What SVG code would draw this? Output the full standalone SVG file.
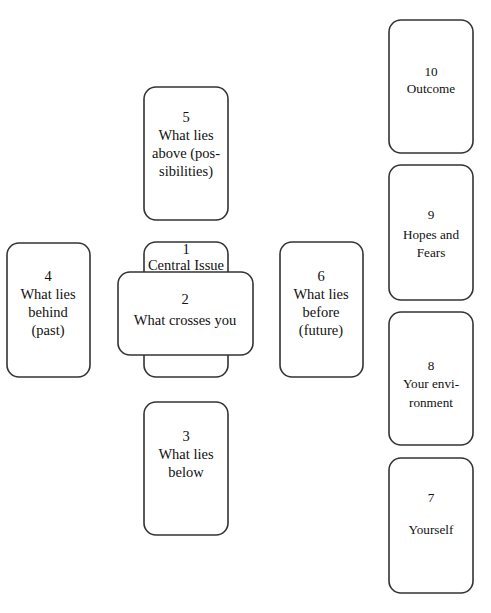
<svg xmlns="http://www.w3.org/2000/svg" width="491" height="613" viewBox="0 0 491 613">
<style>
.card{fill:#fff;stroke:#333;stroke-width:1.6}
text{font-family:"Liberation Serif","Times New Roman",serif;font-size:14.5px;fill:#111;text-anchor:middle}
.sm{font-size:13.2px}
</style>
<rect width="491" height="613" fill="#fff"/>
<g id="card5"><rect class="card" x="144" y="87" width="84" height="133" rx="12"/>
<text x="186" y="122">5</text><text x="186" y="140">What lies</text><text x="186" y="158">above (pos-</text><text x="186" y="176">sibilities)</text></g>
<g id="card1"><rect class="card" x="144" y="242" width="84" height="135" rx="12"/>
<text x="186" y="254">1</text><text x="186" y="270">Central Issue</text></g>
<g id="card2"><rect class="card" x="118" y="272" width="135" height="83" rx="12"/>
<text x="185" y="304">2</text><text x="185" y="325">What crosses you</text></g>
<g id="card4"><rect class="card" x="7" y="243" width="83" height="134" rx="12"/>
<text x="48" y="281">4</text><text x="48" y="299">What lies</text><text x="48" y="317">behind</text><text x="48" y="335">(past)</text></g>
<g id="card6"><rect class="card" x="280" y="242" width="83" height="135" rx="12"/>
<text x="321" y="281">6</text><text x="321" y="299">What lies</text><text x="321" y="317">before</text><text x="321" y="335">(future)</text></g>
<g id="card3"><rect class="card" x="144" y="402" width="84" height="133" rx="12"/>
<text x="186" y="441">3</text><text x="186" y="459">What lies</text><text x="186" y="477">below</text></g>
<g id="card10"><rect class="card" x="389" y="20" width="84" height="133" rx="12"/>
<text class="sm" x="431" y="76">10</text><text class="sm" x="431" y="93">Outcome</text></g>
<g id="card9"><rect class="card" x="389" y="165" width="84" height="135" rx="12"/>
<text class="sm" x="431" y="219">9</text><text class="sm" x="431" y="239">Hopes and</text><text class="sm" x="431" y="257">Fears</text></g>
<g id="card8"><rect class="card" x="389" y="312" width="84" height="133" rx="12"/>
<text class="sm" x="431" y="370">8</text><text class="sm" x="431" y="388">Your envi-</text><text class="sm" x="431" y="407">ronment</text></g>
<g id="card7"><rect class="card" x="389" y="458" width="84" height="135" rx="12"/>
<text class="sm" x="431" y="502">7</text><text class="sm" x="431" y="534">Yourself</text></g>
<g id="connectors"/>
</svg>
